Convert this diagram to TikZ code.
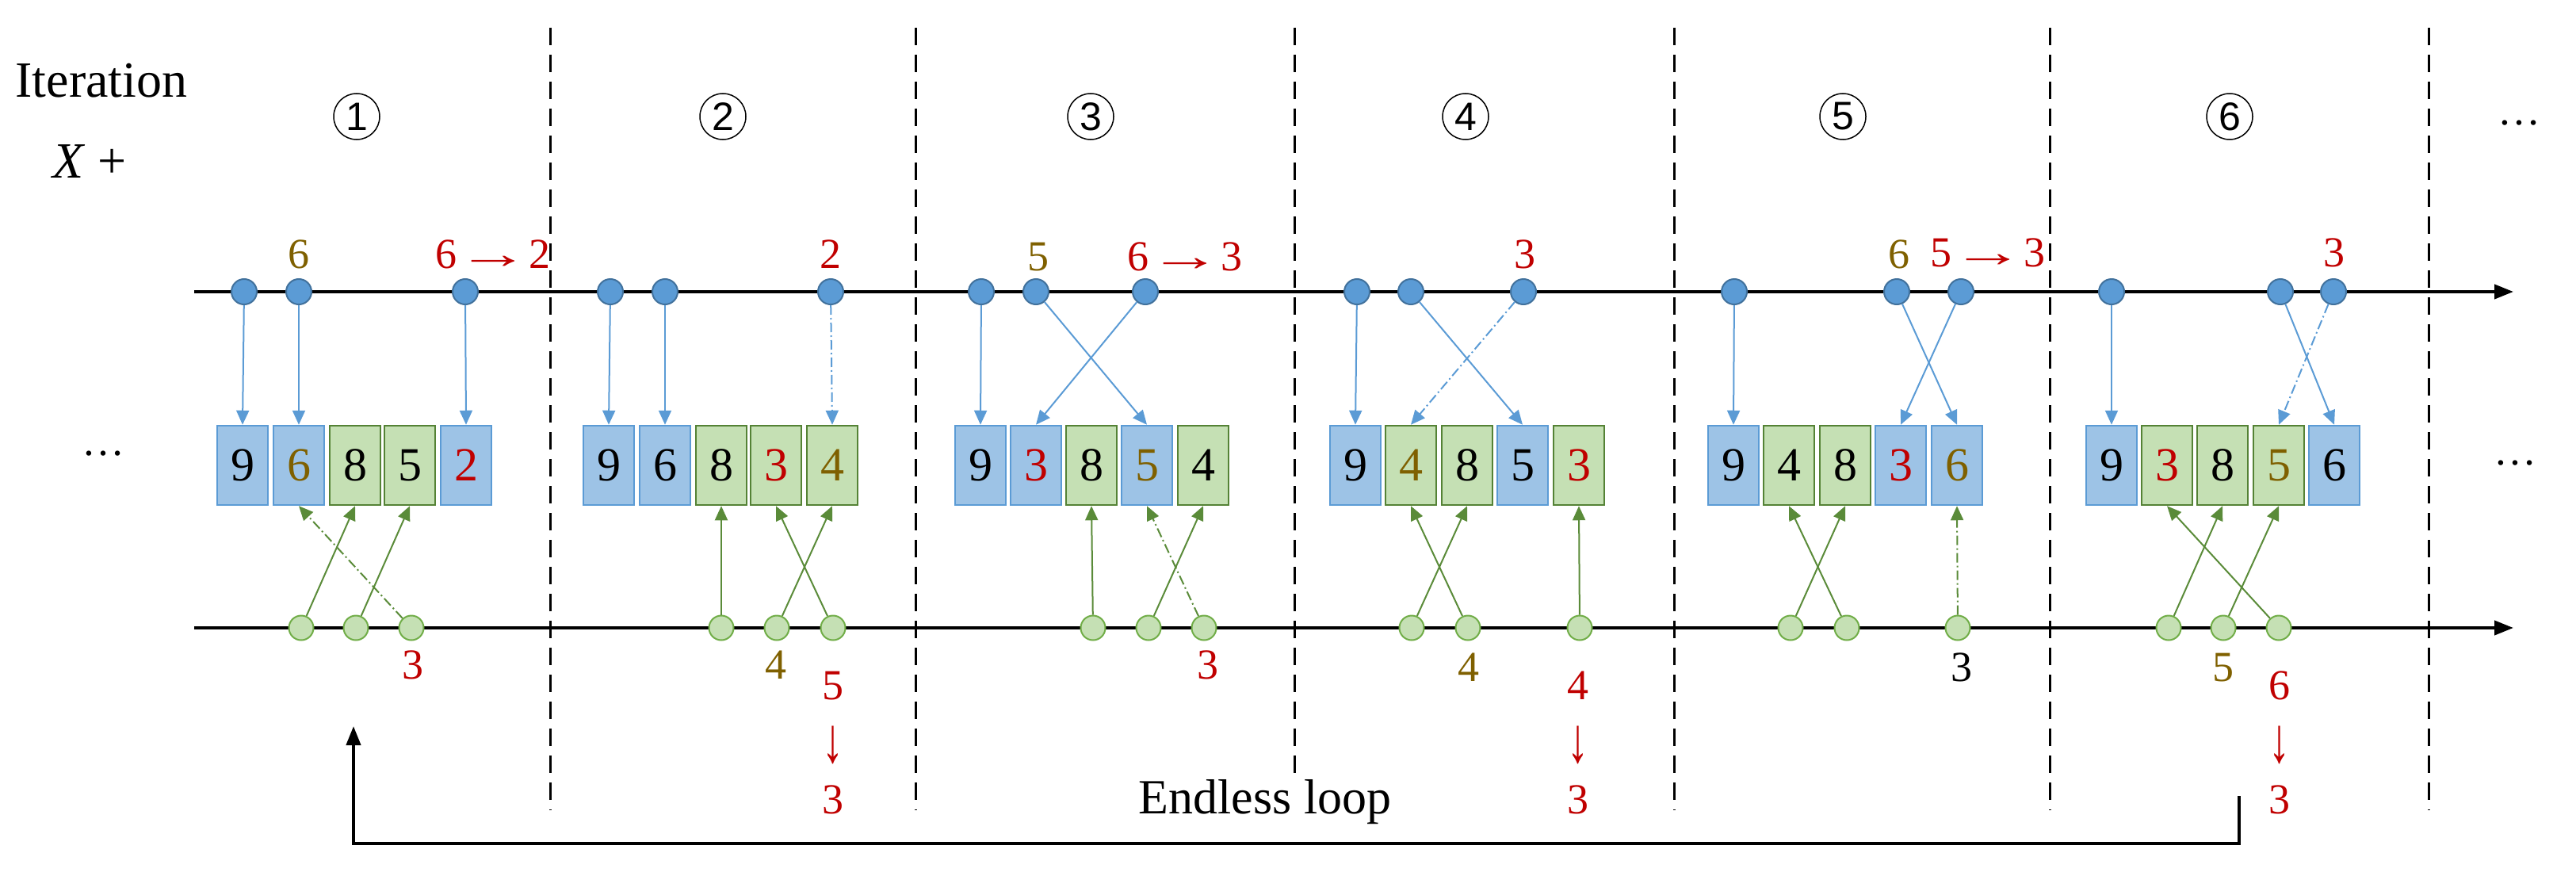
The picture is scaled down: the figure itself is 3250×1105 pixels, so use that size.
\documentclass[tikz,border=0pt]{standalone}
\usepackage{graphicx}
\usepackage{fontspec}
\setmainfont{Liberation Serif}
\setsansfont{Liberation Sans}
\usetikzlibrary{arrows.meta}
\definecolor{bfill}{HTML}{9DC3E6}\definecolor{bline}{HTML}{5B9BD5}
\definecolor{gfill}{HTML}{C5E0B4}\definecolor{gline}{HTML}{548235}
\definecolor{gcirc}{HTML}{70AD47}\definecolor{bcirc}{HTML}{41719C}
\definecolor{brn}{HTML}{7F6000}\definecolor{rd}{HTML}{C00000}
\newcommand{\lar}{\scalebox{1.7}[1]{→}}
\newcommand{\dar}{\scalebox{1}[1.5]{↓}}
\begin{document}
\begin{tikzpicture}[x=1pt,y=-1pt,
 bb/.style={draw=bline,fill=bfill,line width=2.5,minimum width=64,minimum height=100,inner sep=0,font=\fontsize{60}{60}\selectfont},
 gg/.style={draw=gline,fill=gfill,line width=2.5,minimum width=64,minimum height=100,inner sep=0,font=\fontsize{60}{60}\selectfont},
 tc/.style={circle,draw=bcirc,fill=bline,line width=2,minimum size=32,inner sep=0},
 bc/.style={circle,draw=gcirc,fill=gfill,line width=2,minimum size=31,inner sep=0},
 barr/.style={draw=bline,line width=2,-{Triangle[length=18,width=16]}},
 garr/.style={draw=gline!80!gcirc,line width=2,-{Triangle[length=18,width=16]}},
 dd/.style={dash pattern=on 12 off 4 on 2 off 4},
 lab/.style={font=\fontsize{54}{54}\selectfont,inner sep=0},
 num/.style={circle,draw,line width=1.5,minimum size=58,inner sep=0,font=\sffamily\fontsize{50}{50}\selectfont},
 axis/.style={line width=4,-{Triangle[length=24,width=18]}},
 sep/.style={line width=3,dash pattern=on 22 off 12}]
\useasboundingbox (0,0) rectangle (3250,1105);
% separators
\foreach \x [count=\k] in {694,1155,1633,2112,2586,3064} \draw[sep] (\x,35) coordinate (s\k) -- (\x,1022) coordinate (e\k);
% axes
\coordinate (a1) at (245,368); \coordinate (a2) at (3171,368);
\coordinate (a3) at (245,792); \coordinate (a4) at (3171,792);
\draw[axis] (a1) -- (a2);
\draw[axis] (a3) -- (a4);
% headers
\node[font=\fontsize{64}{64}\selectfont] (it) at (128,102) {Iteration};
\node[font=\fontsize{64}{64}\selectfont] (xp) at (113,204) {\textit{X} +};
\foreach \x/\t in {450/1,912/2,1376/3,1849/4,2325/5,2813/6} \node[num] (n\t) at (\x,147) {\t};
\node[lab] (d1) at (130,572) {\dots};
\node[lab] (d2) at (3178,155) {\dots};
\node[lab] (d3) at (3173,584) {\dots};
% groups boxes
\foreach \i/\x/\f/\t/\c in {1/306/bb/9/black,2/377/bb/6/brn,3/448/gg/8/black,4/517/gg/5/black,5/588/bb/2/rd}
  \node[\f,text=\c] (g1b\i) at (\x,587) {\t};
\foreach \i/\x/\f/\t/\c in {1/768/bb/9/black,2/839/bb/6/black,3/910/gg/8/black,4/979/gg/3/rd,5/1050/gg/4/brn}
  \node[\f,text=\c] (g2b\i) at (\x,587) {\t};
\foreach \i/\x/\f/\t/\c in {1/1237/bb/9/black,2/1307/bb/3/rd,3/1377/gg/8/black,4/1447/bb/5/brn,5/1518/gg/4/black}
  \node[\f,text=\c] (g3b\i) at (\x,587) {\t};
\foreach \i/\x/\f/\t/\c in {1/1710/bb/9/black,2/1780/gg/4/brn,3/1851/gg/8/black,4/1921/bb/5/black,5/1992/gg/3/rd}
  \node[\f,text=\c] (g4b\i) at (\x,587) {\t};
\foreach \i/\x/\f/\t/\c in {1/2187/bb/9/black,2/2257/gg/4/black,3/2328/gg/8/black,4/2398/bb/3/rd,5/2469/bb/6/brn}
  \node[\f,text=\c] (g5b\i) at (\x,587) {\t};
\foreach \i/\x/\f/\t/\c in {1/2664/bb/9/black,2/2734/gg/3/rd,3/2804/gg/8/black,4/2875/gg/5/brn,5/2945/bb/6/black}
  \node[\f,text=\c] (g6b\i) at (\x,587) {\t};
% circles
\foreach \g/\a/\b/\c/\d/\e/\f in {1/308/377/587/380/449/519, 2/770/839/1048/910/980/1051, 3/1238/1307/1445/1379/1449/1519, 4/1712/1780/1922/1781/1852/1993, 5/2188/2393/2474/2259/2330/2470, 6/2664/2877/2944/2736/2805/2875}{
  \node[tc] (g\g t1) at (\a,368) {};
  \node[tc] (g\g t2) at (\b,368) {};
  \node[tc] (g\g t3) at (\c,368) {};
  \node[bc] (g\g u1) at (\d,792) {};
  \node[bc] (g\g u2) at (\e,792) {};
  \node[bc] (g\g u3) at (\f,792) {};
}
% arrows G1
\draw[barr] (g1t1) -- (g1b1.north); \draw[barr] (g1t2) -- (g1b2.north); \draw[barr] (g1t3) -- (g1b5.north);
\draw[garr] (g1u1) -- (g1b3.south); \draw[garr] (g1u2) -- (g1b4.south); \draw[garr,dd] (g1u3) -- (g1b2.south);
% G2
\draw[barr] (g2t1) -- (g2b1.north); \draw[barr] (g2t2) -- (g2b2.north); \draw[barr,dd] (g2t3) -- (g2b5.north);
\draw[garr] (g2u1) -- (g2b3.south); \draw[garr] (g2u2) -- (g2b5.south); \draw[garr] (g2u3) -- (g2b4.south);
% G3
\draw[barr] (g3t1) -- (g3b1.north); \draw[barr] (g3t2) -- (g3b4.north); \draw[barr] (g3t3) -- (g3b2.north);
\draw[garr] (g3u1) -- (g3b3.south); \draw[garr] (g3u2) -- (g3b5.south); \draw[garr,dd] (g3u3) -- (g3b4.south);
% G4
\draw[barr] (g4t1) -- (g4b1.north); \draw[barr] (g4t2) -- (g4b4.north); \draw[barr,dd] (g4t3) -- (g4b2.north);
\draw[garr] (g4u1) -- (g4b3.south); \draw[garr] (g4u2) -- (g4b2.south); \draw[garr] (g4u3) -- (g4b5.south);
% G5
\draw[barr] (g5t1) -- (g5b1.north); \draw[barr] (g5t2) -- (g5b5.north); \draw[barr] (g5t3) -- (g5b4.north);
\draw[garr] (g5u1) -- (g5b3.south); \draw[garr] (g5u2) -- (g5b2.south); \draw[garr,dd] (g5u3) -- (g5b5.south);
% G6
\draw[barr] (g6t1) -- (g6b1.north); \draw[barr] (g6t2) -- (g6b5.north); \draw[barr,dd] (g6t3) -- (g6b4.north);
\draw[garr] (g6u1) -- (g6b3.south); \draw[garr] (g6u2) -- (g6b4.south); \draw[garr] (g6u3) -- (g6b2.south);
% top labels
\node[lab,text=brn] (l1) at (377,321) {6};
\node[lab,text=rd] (l2) at (622,321) {6\lar2};
\node[lab,text=rd] (l3) at (1048,321) {2};
\node[lab,text=brn] (l4) at (1310,324) {5};
\node[lab,text=rd] (l5) at (1495,324) {6\lar3};
\node[lab,text=rd] (l6) at (1924,321) {3};
\node[lab,text=brn] (l7) at (2396,321) {6};
\node[lab,text=rd] (l8) at (2508,319) {5\lar3};
\node[lab,text=rd] (l9) at (2945,319) {3};
% bottom labels
\node[lab,text=rd] (m1) at (521,839) {3};
\node[lab,text=brn] (m2) at (979,839) {4};
\node[lab,text=rd] (m4) at (1524,839) {3};
\node[lab,text=brn] (m5) at (1853,842) {4};
\node[lab] (m7) at (2475,842) {3};
\node[lab,text=brn] (m8) at (2805,842) {5};
\foreach \x/\a [count=\k] in {1051/5,1991/4,2876/6}{
  \node[lab,text=rd] (r\k a) at (\x,865) {\a};
  \node[lab,text=rd] (r\k b) at (\x,940) {\dar};
  \node[lab,text=rd] (r\k c) at (\x,1009) {3};
}
% loop
\coordinate (p1) at (2825,1004); \coordinate (p2) at (446,916);
\draw[line width=4,-{Triangle[length=24,width=18]}] (p1) |- (1500,1064) -| (p2);
\node[font=\fontsize{62}{62}\selectfont,fill=white,inner sep=2] (el) at (1596,1012) {Endless loop};
\end{tikzpicture}
\end{document}
